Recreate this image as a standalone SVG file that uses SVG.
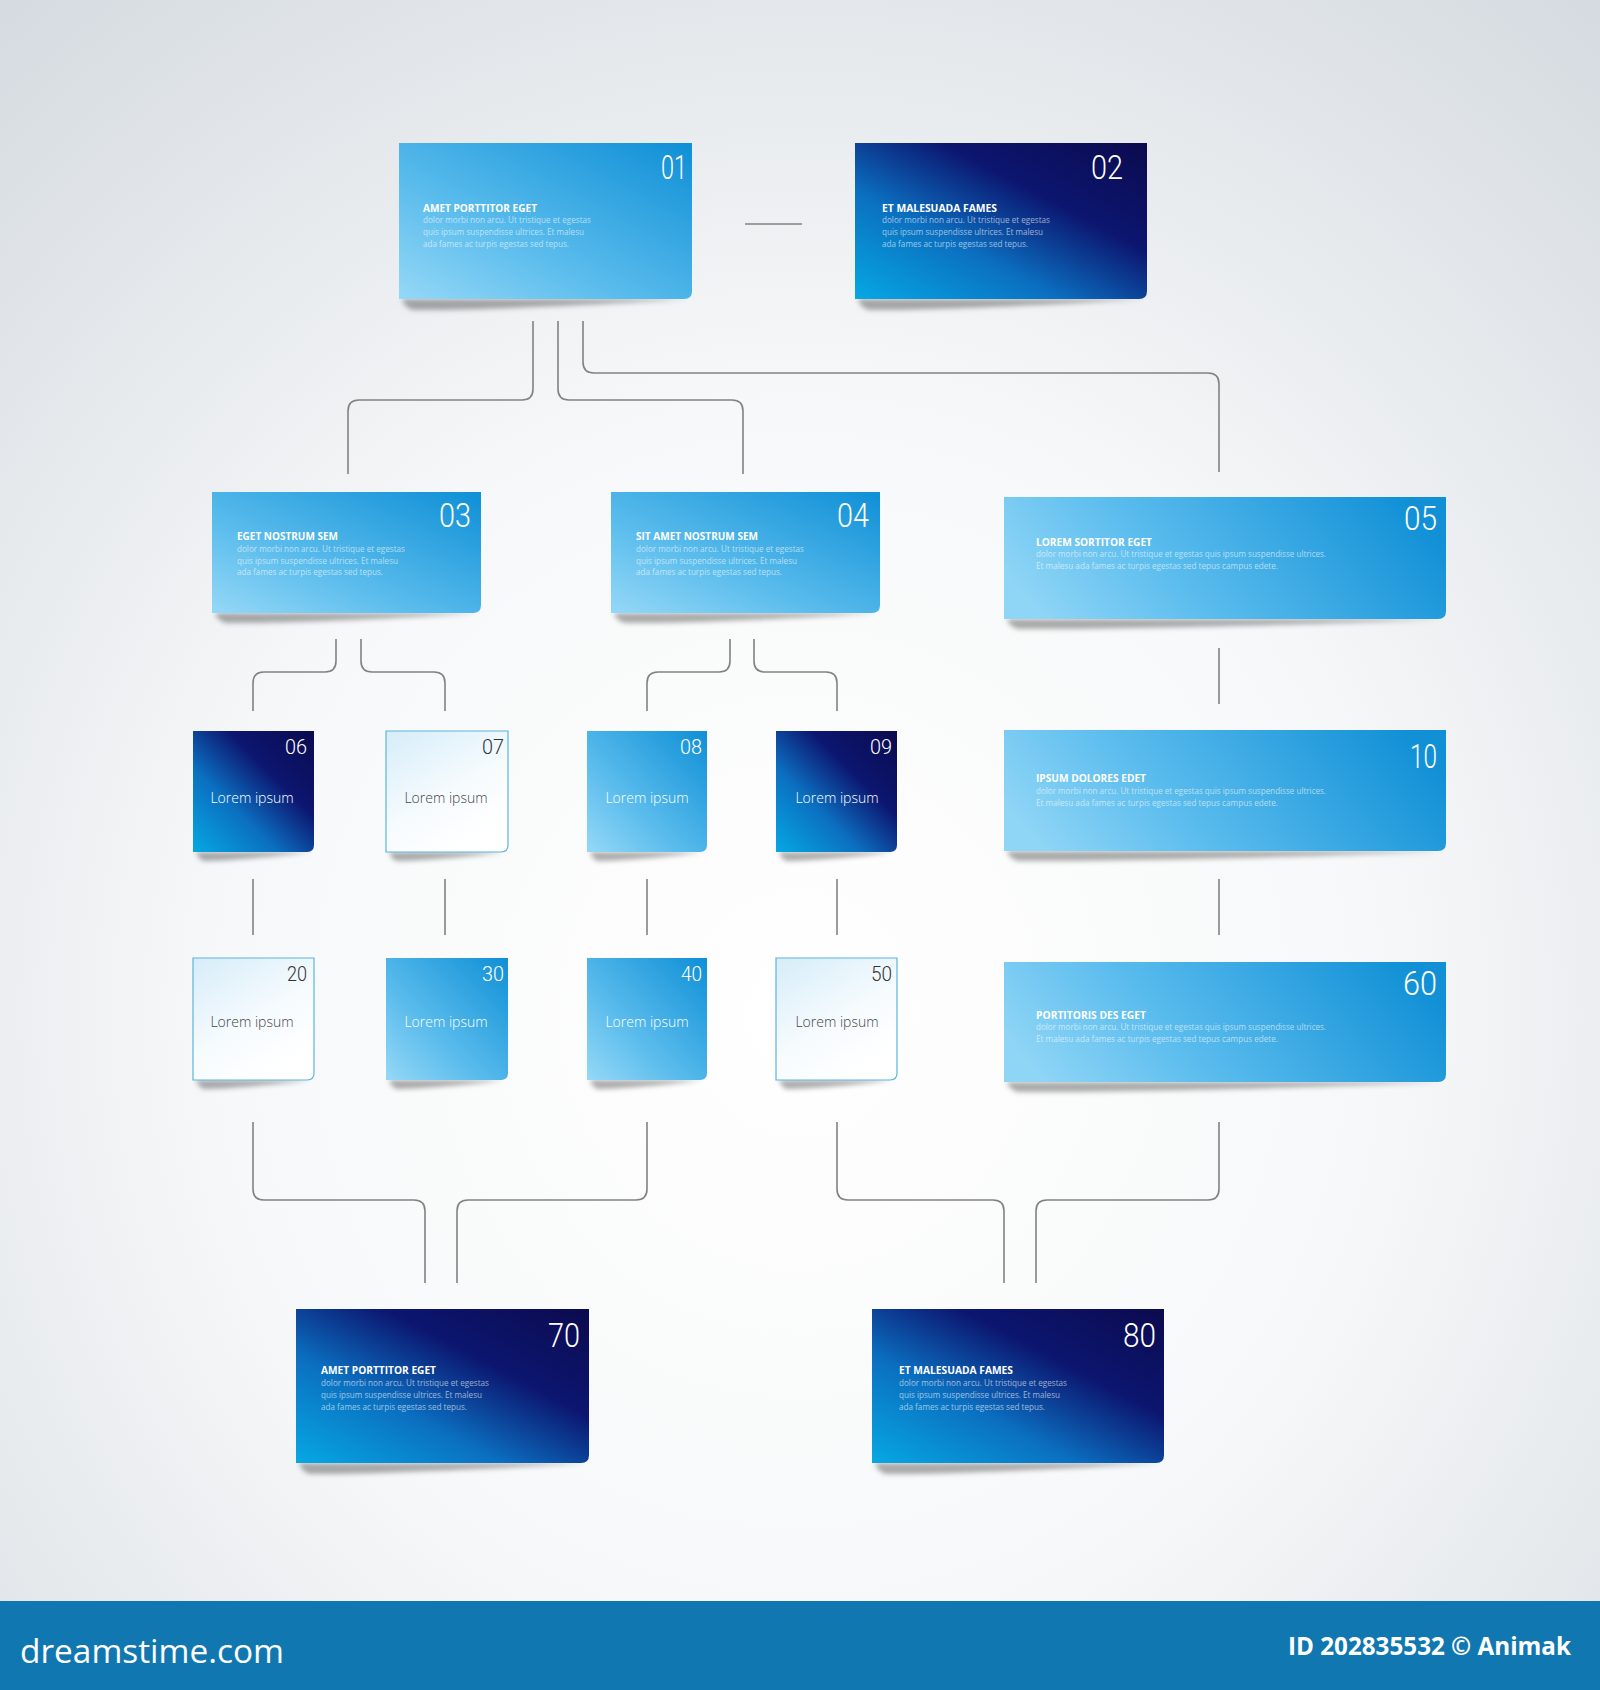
<svg xmlns="http://www.w3.org/2000/svg" width="1600" height="1690" viewBox="0 0 1600 1690">
<defs>
<radialGradient id="bg" cx="0.5" cy="0.6" r="0.8">
<stop offset="0" stop-color="#ffffff"/>
<stop offset="0.45" stop-color="#f7f8f9"/>
<stop offset="1" stop-color="#d3d9df"/>
</radialGradient>
<linearGradient id="gLight" x1="0" y1="1" x2="1" y2="0">
<stop offset="0" stop-color="#95d8f7"/>
<stop offset="0.4" stop-color="#58bbec"/>
<stop offset="1" stop-color="#0f8fd6"/>
</linearGradient>
<linearGradient id="gLightWide" x1="0" y1="0.62" x2="1" y2="0.38">
<stop offset="0" stop-color="#8fd5f6"/>
<stop offset="0.35" stop-color="#5cbdee"/>
<stop offset="1" stop-color="#1190d6"/>
</linearGradient>
<linearGradient id="gDark" x1="0" y1="1" x2="1" y2="0">
<stop offset="0" stop-color="#06a8e3"/>
<stop offset="0.35" stop-color="#0b6fc0"/>
<stop offset="0.65" stop-color="#0c1670"/>
<stop offset="1" stop-color="#0b0a4e"/>
</linearGradient>
<linearGradient id="gWhite" x1="0" y1="0" x2="0.6" y2="1">
<stop offset="0" stop-color="#d6edf9"/>
<stop offset="0.6" stop-color="#f6fbfe"/>
<stop offset="1" stop-color="#ffffff"/>
</linearGradient>
<filter id="blur" x="-10%" y="-100%" width="120%" height="300%">
<feGaussianBlur stdDeviation="2.5"/>
</filter>
<style>
.conn{fill:none;stroke:#828282;stroke-width:1.6;}
.light{fill:url(#gLight);}
.wide{fill:url(#gLightWide);}
.dark{fill:url(#gDark);}
.white{fill:url(#gWhite);stroke:#5db4de;stroke-width:1.2;}
.shadow{fill:#000;fill-opacity:0.32;filter:url(#blur);}
.num{font-family:Roboto,"Open Sans",sans-serif;font-weight:300;fill:#ffffff;}
.big{font-size:33px;}
.sm{font-size:21px;}
.title{font-family:"Open Sans","Liberation Sans",sans-serif;font-weight:700;font-size:11px;fill:#ffffff;}
.body{font-family:"Open Sans","Liberation Sans",sans-serif;font-size:8.5px;fill:#ffffff;fill-opacity:0.6;}
.lorem{font-family:"Open Sans","Liberation Sans",sans-serif;font-weight:300;font-size:14px;fill:#ffffff;text-anchor:middle;}
.ink{fill:#444444;}
.inknum{fill:#333333;}
.foot{font-family:"Open Sans","Liberation Sans",sans-serif;fill:#ffffff;}
</style>
</defs>

<rect x="0" y="0" width="1600" height="1690" fill="url(#bg)"/>

<g id="connectors">
<path class="conn" d="M745 224 H802"/>
<path class="conn" d="M533 321 V389 Q533 400 522 400 H359 Q348 400 348 411 V474"/>
<path class="conn" d="M558 321 V389 Q558 400 569 400 H732 Q743 400 743 411 V474"/>
<path class="conn" d="M583 321 V362 Q583 373 594 373 H1208 Q1219 373 1219 384 V472"/>
<path class="conn" d="M336 639 V661 Q336 672 325 672 H264 Q253 672 253 683 V711"/>
<path class="conn" d="M361 639 V661 Q361 672 372 672 H434 Q445 672 445 683 V711"/>
<path class="conn" d="M730 639 V661 Q730 672 719 672 H658 Q647 672 647 683 V711"/>
<path class="conn" d="M754 639 V661 Q754 672 765 672 H826 Q837 672 837 683 V711"/>
<path class="conn" d="M253 879 V935"/>
<path class="conn" d="M445 879 V935"/>
<path class="conn" d="M647 879 V935"/>
<path class="conn" d="M837 879 V935"/>
<path class="conn" d="M1219 648 V704"/>
<path class="conn" d="M1219 879 V935"/>
<path class="conn" d="M253 1122 V1189 Q253 1200 264 1200 H414 Q425 1200 425 1211 V1283"/>
<path class="conn" d="M647 1122 V1189 Q647 1200 636 1200 H468 Q457 1200 457 1211 V1283"/>
<path class="conn" d="M837 1122 V1189 Q837 1200 848 1200 H993 Q1004 1200 1004 1211 V1283"/>
<path class="conn" d="M1219 1122 V1189 Q1219 1200 1208 1200 H1047 Q1036 1200 1036 1211 V1283"/>
</g>

<g id="node-01">
<path class="shadow" d="M402 299 H688 C630 303 470 311 412 310 Q403 306 402 299 Z"/>
<path class="light" d="M399 143 H692 V291 Q692 299 684 299 H399 Z"/>
<text class="num big" x="661" y="179" textLength="26" lengthAdjust="spacingAndGlyphs">01</text>
<text class="title" x="423" y="212" textLength="114" lengthAdjust="spacingAndGlyphs">AMET PORTTITOR EGET</text>
<text class="body" x="423" y="223" textLength="168" lengthAdjust="spacingAndGlyphs">dolor morbi non arcu. Ut tristique et egestas</text>
<text class="body" x="423" y="235" textLength="161" lengthAdjust="spacingAndGlyphs">quis ipsum suspendisse ultrices. Et malesu</text>
<text class="body" x="423" y="247" textLength="146" lengthAdjust="spacingAndGlyphs">ada fames ac turpis egestas sed tepus.</text>
</g>

<g id="node-02">
<path class="shadow" d="M858 299 H1143 C1086 303 926 311 868 310 Q859 306 858 299 Z"/>
<path class="dark" d="M855 143 H1147 V291 Q1147 299 1139 299 H855 Z"/>
<text class="num big" x="1091" y="179" textLength="32" lengthAdjust="spacingAndGlyphs">02</text>
<text class="title" x="882" y="212" textLength="115" lengthAdjust="spacingAndGlyphs">ET MALESUADA FAMES</text>
<text class="body" x="882" y="223" textLength="168" lengthAdjust="spacingAndGlyphs">dolor morbi non arcu. Ut tristique et egestas</text>
<text class="body" x="882" y="235" textLength="161" lengthAdjust="spacingAndGlyphs">quis ipsum suspendisse ultrices. Et malesu</text>
<text class="body" x="882" y="247" textLength="146" lengthAdjust="spacingAndGlyphs">ada fames ac turpis egestas sed tepus.</text>
</g>

<g id="node-03">
<path class="shadow" d="M215 613 H477 C425 617 280 624 225 623 Q216 619 215 613 Z"/>
<path class="light" d="M212 492 H481 V605 Q481 613 473 613 H212 Z"/>
<text class="num big" x="439" y="527" textLength="32" lengthAdjust="spacingAndGlyphs">03</text>
<text class="title" x="237" y="540" textLength="101" lengthAdjust="spacingAndGlyphs">EGET NOSTRUM SEM</text>
<text class="body" x="237" y="552" textLength="168" lengthAdjust="spacingAndGlyphs">dolor morbi non arcu. Ut tristique et egestas</text>
<text class="body" x="237" y="564" textLength="161" lengthAdjust="spacingAndGlyphs">quis ipsum suspendisse ultrices. Et malesu</text>
<text class="body" x="237" y="575" textLength="146" lengthAdjust="spacingAndGlyphs">ada fames ac turpis egestas sed tepus.</text>
</g>

<g id="node-04">
<path class="shadow" d="M614 613 H876 C824 617 679 624 624 623 Q615 619 614 613 Z"/>
<path class="light" d="M611 492 H880 V605 Q880 613 872 613 H611 Z"/>
<text class="num big" x="837" y="527" textLength="32" lengthAdjust="spacingAndGlyphs">04</text>
<text class="title" x="636" y="540" textLength="122" lengthAdjust="spacingAndGlyphs">SIT AMET NOSTRUM SEM</text>
<text class="body" x="636" y="552" textLength="168" lengthAdjust="spacingAndGlyphs">dolor morbi non arcu. Ut tristique et egestas</text>
<text class="body" x="636" y="564" textLength="161" lengthAdjust="spacingAndGlyphs">quis ipsum suspendisse ultrices. Et malesu</text>
<text class="body" x="636" y="575" textLength="146" lengthAdjust="spacingAndGlyphs">ada fames ac turpis egestas sed tepus.</text>
</g>

<g id="node-05">
<path class="shadow" d="M1007 619 H1442 C1360 623 1120 630 1017 629 Q1008 625 1007 619 Z"/>
<path class="wide" d="M1004 497 H1446 V611 Q1446 619 1438 619 H1004 Z"/>
<text class="num big" x="1404" y="530" textLength="33" lengthAdjust="spacingAndGlyphs">05</text>
<text class="title" x="1036" y="546" textLength="116" lengthAdjust="spacingAndGlyphs">LOREM SORTITOR EGET</text>
<text class="body" x="1036" y="557" textLength="290" lengthAdjust="spacingAndGlyphs">dolor morbi non arcu. Ut tristique et egestas quis ipsum suspendisse ultrices.</text>
<text class="body" x="1036" y="569" textLength="242" lengthAdjust="spacingAndGlyphs">Et malesu ada fames ac turpis egestas sed tepus campus edete.</text>
</g>

<g id="node-10">
<path class="shadow" d="M1007 851 H1442 C1360 855 1120 862 1017 861 Q1008 857 1007 851 Z"/>
<path class="wide" d="M1004 730 H1446 V843 Q1446 851 1438 851 H1004 Z"/>
<text class="num big" x="1410" y="768" textLength="27" lengthAdjust="spacingAndGlyphs">10</text>
<text class="title" x="1036" y="782" textLength="110" lengthAdjust="spacingAndGlyphs">IPSUM DOLORES EDET</text>
<text class="body" x="1036" y="794" textLength="290" lengthAdjust="spacingAndGlyphs">dolor morbi non arcu. Ut tristique et egestas quis ipsum suspendisse ultrices.</text>
<text class="body" x="1036" y="806" textLength="242" lengthAdjust="spacingAndGlyphs">Et malesu ada fames ac turpis egestas sed tepus campus edete.</text>
</g>

<g id="node-60">
<path class="shadow" d="M1007 1082 H1442 C1360 1086 1120 1093 1017 1092 Q1008 1088 1007 1082 Z"/>
<path class="wide" d="M1004 962 H1446 V1074 Q1446 1082 1438 1082 H1004 Z"/>
<text class="num big" x="1403" y="995" textLength="34" lengthAdjust="spacingAndGlyphs">60</text>
<text class="title" x="1036" y="1019" textLength="110" lengthAdjust="spacingAndGlyphs">PORTITORIS DES EGET</text>
<text class="body" x="1036" y="1030" textLength="290" lengthAdjust="spacingAndGlyphs">dolor morbi non arcu. Ut tristique et egestas quis ipsum suspendisse ultrices.</text>
<text class="body" x="1036" y="1042" textLength="242" lengthAdjust="spacingAndGlyphs">Et malesu ada fames ac turpis egestas sed tepus campus edete.</text>
</g>

<g id="node-06">
<path class="shadow" d="M196 852 H310 C290 855 230 861 203 861 Q197 857 196 852 Z"/>
<path class="dark" d="M193 731 H314 V845 Q314 852 307 852 H193 Z"/>
<text class="num sm" x="285" y="754" textLength="22" lengthAdjust="spacingAndGlyphs">06</text>
<text class="lorem" x="252" y="803">Lorem ipsum</text>
</g>

<g id="node-07">
<path class="shadow" d="M389 852 H504 C484 855 424 861 396 861 Q390 857 389 852 Z"/>
<path class="white" d="M386 731 H508 V845 Q508 852 501 852 H386 Z"/>
<text class="num sm inknum" x="482" y="754" textLength="22" lengthAdjust="spacingAndGlyphs">07</text>
<text class="lorem ink" x="446" y="803">Lorem ipsum</text>
</g>

<g id="node-08">
<path class="shadow" d="M590 852 H703 C683 855 623 861 597 861 Q591 857 590 852 Z"/>
<path class="light" d="M587 731 H707 V845 Q707 852 700 852 H587 Z"/>
<text class="num sm" x="680" y="754" textLength="22" lengthAdjust="spacingAndGlyphs">08</text>
<text class="lorem" x="647" y="803">Lorem ipsum</text>
</g>

<g id="node-09">
<path class="shadow" d="M779 852 H893 C873 855 813 861 786 861 Q780 857 779 852 Z"/>
<path class="dark" d="M776 731 H897 V845 Q897 852 890 852 H776 Z"/>
<text class="num sm" x="870" y="754" textLength="22" lengthAdjust="spacingAndGlyphs">09</text>
<text class="lorem" x="837" y="803">Lorem ipsum</text>
</g>

<g id="node-20">
<path class="shadow" d="M196 1080 H310 C290 1083 230 1089 203 1089 Q197 1085 196 1080 Z"/>
<path class="white" d="M193 958 H314 V1073 Q314 1080 307 1080 H193 Z"/>
<text class="num sm inknum" x="287" y="981" textLength="20" lengthAdjust="spacingAndGlyphs">20</text>
<text class="lorem ink" x="252" y="1027">Lorem ipsum</text>
</g>

<g id="node-30">
<path class="shadow" d="M389 1080 H504 C484 1083 424 1089 396 1089 Q390 1085 389 1080 Z"/>
<path class="light" d="M386 958 H508 V1073 Q508 1080 501 1080 H386 Z"/>
<text class="num sm" x="482" y="981" textLength="22" lengthAdjust="spacingAndGlyphs">30</text>
<text class="lorem" x="446" y="1027">Lorem ipsum</text>
</g>

<g id="node-40">
<path class="shadow" d="M590 1080 H703 C683 1083 623 1089 597 1089 Q591 1085 590 1080 Z"/>
<path class="light" d="M587 958 H707 V1073 Q707 1080 700 1080 H587 Z"/>
<text class="num sm" x="681" y="981" textLength="21" lengthAdjust="spacingAndGlyphs">40</text>
<text class="lorem" x="647" y="1027">Lorem ipsum</text>
</g>

<g id="node-50">
<path class="shadow" d="M779 1080 H893 C873 1083 813 1089 786 1089 Q780 1085 779 1080 Z"/>
<path class="white" d="M776 958 H897 V1073 Q897 1080 890 1080 H776 Z"/>
<text class="num sm inknum" x="871" y="981" textLength="21" lengthAdjust="spacingAndGlyphs">50</text>
<text class="lorem ink" x="837" y="1027">Lorem ipsum</text>
</g>

<g id="node-70">
<path class="shadow" d="M299 1463 H585 C527 1467 367 1475 309 1474 Q300 1470 299 1463 Z"/>
<path class="dark" d="M296 1309 H589 V1455 Q589 1463 581 1463 H296 Z"/>
<text class="num big" x="548" y="1347" textLength="32" lengthAdjust="spacingAndGlyphs">70</text>
<text class="title" x="321" y="1374" textLength="115" lengthAdjust="spacingAndGlyphs">AMET PORTTITOR EGET</text>
<text class="body" x="321" y="1386" textLength="168" lengthAdjust="spacingAndGlyphs">dolor morbi non arcu. Ut tristique et egestas</text>
<text class="body" x="321" y="1398" textLength="161" lengthAdjust="spacingAndGlyphs">quis ipsum suspendisse ultrices. Et malesu</text>
<text class="body" x="321" y="1410" textLength="146" lengthAdjust="spacingAndGlyphs">ada fames ac turpis egestas sed tepus.</text>
</g>

<g id="node-80">
<path class="shadow" d="M875 1463 H1160 C1103 1467 943 1475 885 1474 Q876 1470 875 1463 Z"/>
<path class="dark" d="M872 1309 H1164 V1455 Q1164 1463 1156 1463 H872 Z"/>
<text class="num big" x="1123" y="1347" textLength="33" lengthAdjust="spacingAndGlyphs">80</text>
<text class="title" x="899" y="1374" textLength="114" lengthAdjust="spacingAndGlyphs">ET MALESUADA FAMES</text>
<text class="body" x="899" y="1386" textLength="168" lengthAdjust="spacingAndGlyphs">dolor morbi non arcu. Ut tristique et egestas</text>
<text class="body" x="899" y="1398" textLength="161" lengthAdjust="spacingAndGlyphs">quis ipsum suspendisse ultrices. Et malesu</text>
<text class="body" x="899" y="1410" textLength="146" lengthAdjust="spacingAndGlyphs">ada fames ac turpis egestas sed tepus.</text>
</g>

<g id="footer">
<rect x="0" y="1601" width="1600" height="89" fill="#1177b0"/>
<text class="foot" x="20" y="1663" font-size="32" textLength="264" lengthAdjust="spacingAndGlyphs">dreamstime.com</text>
<text class="foot" x="1288" y="1655" font-size="25" font-weight="700" textLength="283" lengthAdjust="spacingAndGlyphs">ID 202835532 © Animak</text>
</g>
</svg>
